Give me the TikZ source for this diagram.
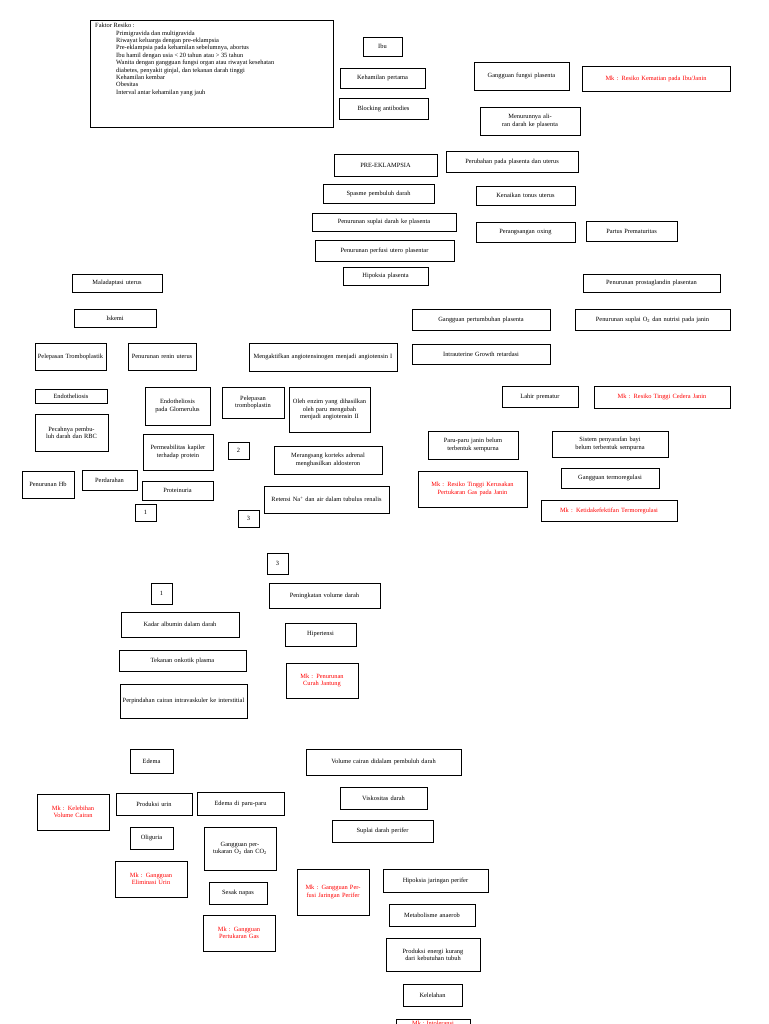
\documentclass[tikz,border=0pt]{standalone}
\usepackage{fontspec}
\setmainfont{Liberation Serif}
\begin{document}
\begin{tikzpicture}[x=1pt,y=-1pt,
  box/.style={draw,line width=0.8pt,inner sep=0pt,align=center,font=\fontsize{6.4}{7.2}\selectfont},
  mk/.style={box,text=red}]
\newcommand\bx[6][box]{\node[#1,minimum width={(#4-#2)*1pt},minimum height={(#5-#3)*1pt},text width={(#4-#2-4)*1pt}] (n#2x#3) at ({(#2+#4)/2},{(#3+#5)/2}) {#6};}
\useasboundingbox (0,0) rectangle (768,1024);
\fill[white] (0,0) rectangle (768,1024);
\begin{scope}
\clip (0,0) rectangle (768,1024);
\node[draw,line width=0.8pt,minimum width=243pt,minimum height=107pt,inner sep=0pt] (faktor) at (211.5,73.5) {};
\node[anchor=north west,align=left,inner sep=0pt,font=\fontsize{6.4}{7.4}\selectfont] (ftxt) at (95,23) {Faktor Resiko :\\
\hspace{21pt}Primigravida dan multigravida\\
\hspace{21pt}Riwayat keluarga dengan pre-eklampsia\\
\hspace{21pt}Pre-eklampsia pada kehamilan sebelumnya, abortus\\
\hspace{21pt}Ibu hamil dengan usia < 20 tahun atau > 35 tahun\\
\hspace{21pt}Wanita dengan gangguan fungsi organ atau riwayat kesehatan\\
\hspace{21pt}diabetes, penyakit ginjal, dan tekanan darah tinggi\\
\hspace{21pt}Kehamilan kembar\\
\hspace{21pt}Obesitas\\
\hspace{21pt}Interval antar kehamilan yang jauh};
\bx{363}{37}{402}{56}{Ibu}
\bx{340}{68}{425}{88}{Kehamilan pertama}
\bx{339}{98}{428}{119}{Blocking antibodies}
\bx{474}{62}{569}{90}{Gangguan fungsi plasenta}
\bx[mk]{582}{66}{730}{91}{Mk : Resiko Kematian pada Ibu/Janin}
\bx{480}{107}{580}{135}{Menurunnya aliran darah ke plasenta}
\bx{334}{154}{437}{176}{PRE-EKLAMPSIA}
\bx{446}{151}{578}{172}{Perubahan pada plasenta dan uterus}
\bx{323}{184}{434}{203}{Spasme pembuluh darah}
\bx{476}{186}{575}{205}{Kenaikan tonus uterus}
\bx{312}{213}{456}{231}{Penurunan suplai darah ke plasenta}
\bx{476}{222}{575}{242}{Perangsangan oxing}
\bx{586}{221}{677}{241}{Partus Prematuritas}
\bx{315}{240}{454}{261}{Penurunan perfusi utero plasentar}
\bx{343}{267}{428}{285}{Hipoksia plasenta}
\bx{583}{274}{720}{292}{Penurunan prostaglandin plasentan}
\bx{72}{274}{162}{292}{Maladaptasi uterus}
\bx{74}{309}{156}{327}{Iskemi}
\bx{35}{343}{106}{370}{Pelepasan Tromboplastik}
\bx{128}{343}{196}{370}{Penurunan renin uterus}
\bx{249}{343}{397}{371}{Mengaktifkan angiotensinogen menjadi angiotensin I}
\bx{412}{309}{550}{330}{Gangguan pertumbuhan plasenta}
\bx{575}{309}{730}{330}{Penurunan suplai O\textsubscript{2} dan nutrisi pada janin}
\bx{412}{344}{550}{364}{Intrauterine Growth retardasi}
\bx{502}{386}{578}{407}{Lahir prematur}
\bx[mk]{594}{386}{730}{408}{Mk : Resiko Tinggi Cedera Janin}
\bx{35}{389}{107}{403}{Endotheliosis}
\bx{145}{387}{210}{425}{Endotheliosis pada Glomerulus}
\bx{222}{387}{284}{418}{Pelepasan tromboplastin}
\bx{289}{387}{370}{432}{Oleh enzim yang dihasilkan oleh paru mengubah menjadi angiotensin II}
\bx{35}{414}{108}{451}{Pecahnya pembuluh darah dan RBC}
\bx{143}{434}{213}{470}{Permeabilitas kapiler terhadap protein}
\bx{228}{442}{249}{459}{2}
\bx{274}{446}{382}{474}{Merangsang korteks adrenal menghasilkan aldosteron}
\bx{428}{431}{518}{459}{Paru-paru janin belum terbentuk sempurna}
\bx{552}{431}{668}{457}{Sistem penyarafan bayi belum terbentuk sempurna}
\bx[mk]{418}{471}{527}{507}{Mk : Resiko Tinggi Kerusakan Pertukaran Gas pada Janin}
\bx{561}{468}{659}{488}{Gangguan termoregulasi}
\bx[mk]{541}{500}{677}{521}{Mk : Ketidakefektifan Termoregulasi}
\bx{22}{471}{74}{498}{Penurunan Hb}
\bx{82}{470}{137}{490}{Perdarahan}
\bx{142}{481}{213}{500}{Proteinuria}
\bx{264}{486}{389}{513}{Retensi Na\textsuperscript{+} dan air dalam tubulus renalis}
\bx{135}{504}{156}{521}{1}
\bx{238}{510}{259}{527}{3}
\bx{267}{553}{288}{574}{3}
\bx{151}{583}{172}{604}{1}
\bx{269}{583}{380}{608}{Peningkatan volume darah}
\bx{121}{612}{239}{637}{Kadar albumin dalam darah}
\bx{285}{623}{356}{646}{Hipertensi}
\bx{119}{650}{246}{671}{Tekanan onkotik plasma}
\bx[mk]{286}{663}{358}{698}{Mk : Penurunan Curah Jantung}
\bx{120}{684}{247}{718}{Perpindahan cairan intravaskuler ke interstitial}
\bx{130}{749}{173}{773}{Edema}
\bx{306}{749}{461}{775}{Volume cairan didalam pembuluh darah}
\bx{340}{787}{427}{809}{Viskositas darah}
\bx[mk]{37}{794}{109}{830}{Mk : Kelebihan Volume Cairan}
\bx{116}{793}{192}{815}{Produksi urin}
\bx{197}{792}{284}{815}{Edema di paru-paru}
\bx{332}{820}{433}{842}{Suplai darah perifer}
\bx{130}{827}{173}{849}{Oliguria}
\bx{204}{827}{276}{870}{Gangguan pertukaran O\textsubscript{2} dan CO\textsubscript{2}}
\bx[mk]{115}{861}{187}{897}{Mk : Gangguan Eliminasi Urin}
\bx[mk]{297}{869}{369}{915}{Mk : Gangguan Perfusi Jaringan Perifer}
\bx{383}{869}{488}{892}{Hipoksia jaringan perifer}
\bx{209}{882}{267}{904}{Sesak napas}
\bx{389}{904}{475}{926}{Metabolisme anaerob}
\bx[mk]{203}{915}{275}{951}{Mk : Gangguan Pertukaran Gas}
\bx{386}{938}{480}{971}{Produksi energi kurang dari kebutuhan tubuh}
\bx{403}{984}{462}{1006}{Kelelahan}
\node[draw,line width=0.8pt,minimum width=74pt,minimum height=30pt,inner sep=0pt,anchor=north] (intol) at (433,1019) {};
\node[anchor=north,inner sep=0pt,text=red,font=\fontsize{6.4}{7.2}\selectfont] (intoltxt) at (433,1021) {Mk : Intoleransi};
\end{scope}
\end{tikzpicture}
\end{document}
